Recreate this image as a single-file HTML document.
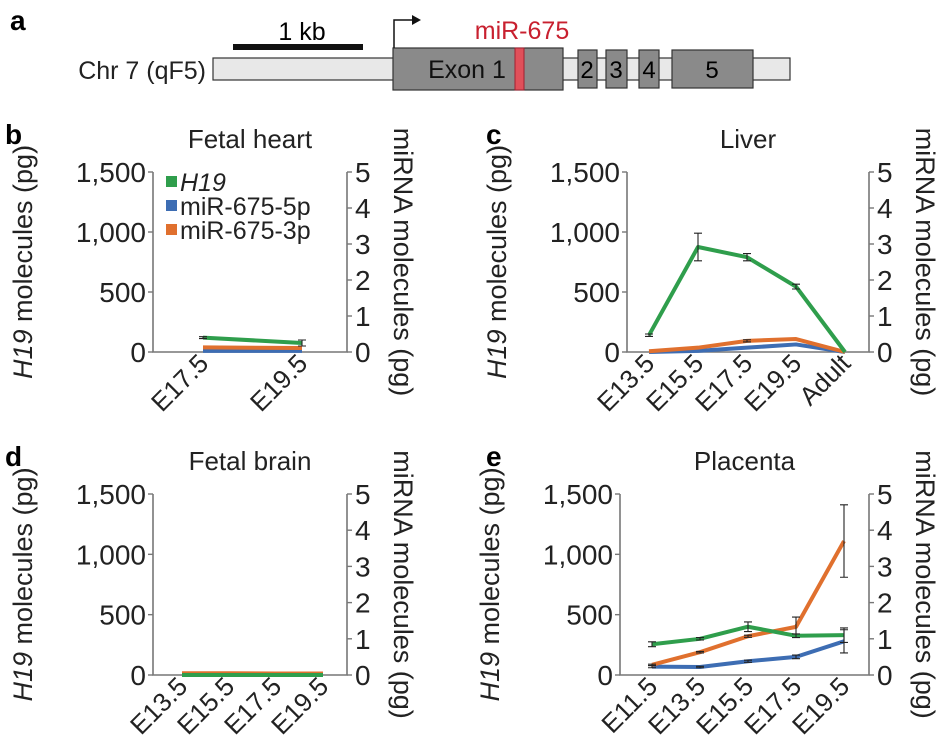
<!DOCTYPE html>
<html><head><meta charset="utf-8"><style>
html,body{margin:0;padding:0;background:#fff;}
svg{display:block;font-family:"Liberation Sans",Arial,sans-serif;}
</style></head><body>
<svg id="fig" width="946" height="750" viewBox="0 0 946 750">
<g>
<text x="10" y="30" font-size="28" font-weight="bold">a</text>
<text x="302" y="40" font-size="25" text-anchor="middle">1 kb</text>
<rect x="233" y="44" width="130" height="6" fill="#111"/>
<text x="206" y="79" font-size="25" text-anchor="end" fill="#222">Chr 7 (qF5)</text>
<rect x="213" y="58" width="577" height="22" fill="#e8e8e8" stroke="#333" stroke-width="1.2"/>
<rect x="393" y="48" width="170" height="42" fill="#8a8a8a" stroke="#333" stroke-width="1.2"/>
<text x="467" y="78" font-size="25" text-anchor="middle" fill="#111">Exon 1</text>
<rect x="515" y="48" width="9" height="42" fill="#e0505a" stroke="#a02030" stroke-width="1"/>
<text x="522" y="39" font-size="25" text-anchor="middle" fill="#c8202f">miR-675</text>
<rect x="578" y="50" width="19" height="38" fill="#8a8a8a" stroke="#333" stroke-width="1.2"/>
<text x="587" y="78" font-size="24" text-anchor="middle">2</text>
<rect x="606" y="50" width="21" height="38" fill="#8a8a8a" stroke="#333" stroke-width="1.2"/>
<text x="616" y="78" font-size="24" text-anchor="middle">3</text>
<rect x="639" y="50" width="20" height="38" fill="#8a8a8a" stroke="#333" stroke-width="1.2"/>
<text x="649" y="78" font-size="24" text-anchor="middle">4</text>
<rect x="672" y="50" width="81" height="38" fill="#8a8a8a" stroke="#333" stroke-width="1.2"/>
<text x="712" y="78" font-size="24" text-anchor="middle">5</text>
<path d="M394 48 V20 H412" fill="none" stroke="#111" stroke-width="1.5"/>
<path d="M412 15 L421 20 L412 25 Z" fill="#111"/>
</g>
</svg>
<script>
// Panel b: Fetal heart
const catsB = ["E17.5","E19.5"];
const h19B = [120,75];
const h19ErrB = [8,25];
const mir5pB = [0.03,0.03];
const mir3pB = [0.13,0.11];
// Panel c: Liver
const catsC = ["E13.5","E15.5","E17.5","E19.5","Adult"];
const h19C = [140,875,790,545,0];
const h19ErrC = [10,115,30,20,0];
const mir5pC = [0,0.03,0.12,0.21,0];
const mir3pC = [0.02,0.12,0.31,0.36,0];
const mir3pErrC = [0,0,0.03,0,0];
// Panel d: Fetal brain
const catsD = ["E13.5","E15.5","E17.5","E19.5"];
const h19D = [0,0,0,0];
const mir5pD = [0,0,0,0];
const mir3pD = [0.05,0.05,0.04,0.04];
// Panel e: Placenta
const catsE = ["E11.5","E13.5","E15.5","E17.5","E19.5"];
const h19E = [255,300,400,325,330];
const h19ErrE = [20,10,40,15,60];
const mir5pE = [0.23,0.22,0.38,0.5,0.93];
const mir5pErrE = [0.03,0.02,0.03,0.05,0.32];
const mir3pE = [0.28,0.63,1.07,1.33,3.7];
const mir3pErrE = [0.02,0.02,0.03,0.27,1.0];
const leftTicks = [0,500,1000,1500];
const leftTickLabels = ["0","500","1,000","1,500"];
const rightTicks = [0,1,2,3,4,5];

const NS="http://www.w3.org/2000/svg";
const svg=document.getElementById('fig');
const GREEN="#2f9e4c",BLUE="#3d6db3",ORANGE="#e0702e",AX="#777";
function mk(tag,attrs,parent,txt){const e=document.createElementNS(NS,tag);for(const k in attrs)e.setAttribute(k,attrs[k]);if(txt!==undefined)e.textContent=txt;parent.appendChild(e);return e;}

function panel(o){
  const g=mk('g',{},svg);
  
  
  const yL=v=>o.y0-(v/1500)*(o.y0-o.yT);
  const yR=v=>o.y0-(v/5)*(o.y0-o.yT);
  const n=o.cats.length;
  const xS=i=>n===1?o.x0:o.x0+i*(o.x1-o.x0)/(n-1);
  let t=mk('text',{x:o.labx,y:o.yT-28,'font-size':28,'font-weight':'bold'},g,o.id);
  
  
  t=mk('text',{x:(o.lx+o.rx)/2,y:o.yT-24,'font-size':26,'text-anchor':'middle',fill:'#222'},g,o.title);
  
  
  let a=mk('path',{d:`M${o.lx} ${o.yT} V${o.y0} H${o.rx} V${o.yT}`,fill:'none',stroke:AX,'stroke-width':1.6},g);
  
  
  leftTicks.forEach((v,i)=>{
    mk('line',{x1:o.lx-5,x2:o.lx,y1:yL(v),y2:yL(v),stroke:AX,'stroke-width':1.4},g);
    const tl=mk('text',{x:o.lx-7,y:yL(v)+10,'font-size':28,'text-anchor':'end',fill:'#222'},g,leftTickLabels[i]);
    
    
  });
  rightTicks.forEach(v=>{
    mk('line',{x1:o.rx,x2:o.rx+5,y1:yR(v),y2:yR(v),stroke:AX,'stroke-width':1.4},g);
    const tl=mk('text',{x:o.rx+8,y:yR(v)+10,'font-size':28,fill:'#222'},g,String(v));
    
    
  });
  const cy=(o.yT+o.y0)/2;
  const lt=mk('text',{transform:`translate(${o.lx-121},${cy}) rotate(-90)`,'font-size':27,'text-anchor':'middle',fill:'#222'},g);
  
  
  mk('tspan',{'font-style':'italic'},lt,'H19');mk('tspan',{},lt,' molecules (pg)');
  const rt=mk('text',{transform:`translate(${o.rx+47},${cy}) rotate(90)`,'font-size':27,'text-anchor':'middle',fill:'#222'},g,'miRNA molecules (pg)');
  
  
  o.cats.forEach((c,i)=>{
    const x=xS(i);
    const tl=mk('text',{transform:`translate(${x+7},${o.y0+13}) rotate(-45)`,'font-size':26,'text-anchor':'end',fill:'#222'},g,c);
    
    
  });
  function series(vals,sc,col,name,errs){
    const pts=vals.map((v,i)=>xS(i)+','+sc(v)).join(' ');
    const l=mk('polyline',{points:pts,fill:'none',stroke:col,'stroke-width':4,'stroke-linejoin':'round'},g);
    
    
    if(errs)errs.forEach((e,i)=>{if(!e)return;const x=xS(i),a=sc(vals[i]+e),b=sc(Math.max(0,vals[i]-e));
      const eb=mk('path',{d:`M${x} ${a} V${b} M${x-4} ${a} H${x+4} M${x-4} ${b} H${x+4}`,stroke:'#222','stroke-width':1.1,fill:'none'},g);
      
      });
  }
  series(o.m5,yR,BLUE,'mir-675-5p',o.m5e);
  series(o.m3,yR,ORANGE,'mir-675-3p',o.m3e);
  series(o.h19,yL,GREEN,'h19',o.h19e);
}
panel({id:'b',labx:5,title:'Fetal heart',lx:153,rx:347,yT:172,y0:352,x0:203,x1:302,cats:catsB,h19:h19B,h19e:h19ErrB,m5:mir5pB,m3:mir3pB});
panel({id:'c',labx:486,title:'Liver',lx:627,rx:869,yT:172,y0:352,x0:649,x1:845,cats:catsC,h19:h19C,h19e:h19ErrC,m5:mir5pC,m3:mir3pC,m3e:mir3pErrC});
panel({id:'d',labx:5,title:'Fetal brain',lx:153,rx:347,yT:494,y0:675,x0:182,x1:323,cats:catsD,h19:h19D,m5:mir5pD,m3:mir3pD});
panel({id:'e',labx:486,title:'Placenta',lx:620,rx:869,yT:494,y0:675,x0:652,x1:844,cats:catsE,h19:h19E,h19e:h19ErrE,m5:mir5pE,m5e:mir5pErrE,m3:mir3pE,m3e:mir3pErrE});

const legendLabels=["H19","miR-675-5p","miR-675-3p"];
const legendColors=[GREEN,BLUE,ORANGE];
const lg=mk('g',{},svg);


legendLabels.forEach((lab,i)=>{
  const y=182+i*24;
  const e=mk('g',{},lg);
  
  
  mk('rect',{x:166,y:y-6,width:11,height:11,fill:legendColors[i]},e);
  mk('text',{x:180,y:y+9,'font-size':25,fill:'#222','font-style':i===0?'italic':'normal'},e,lab);
});
</script>
</body></html>
